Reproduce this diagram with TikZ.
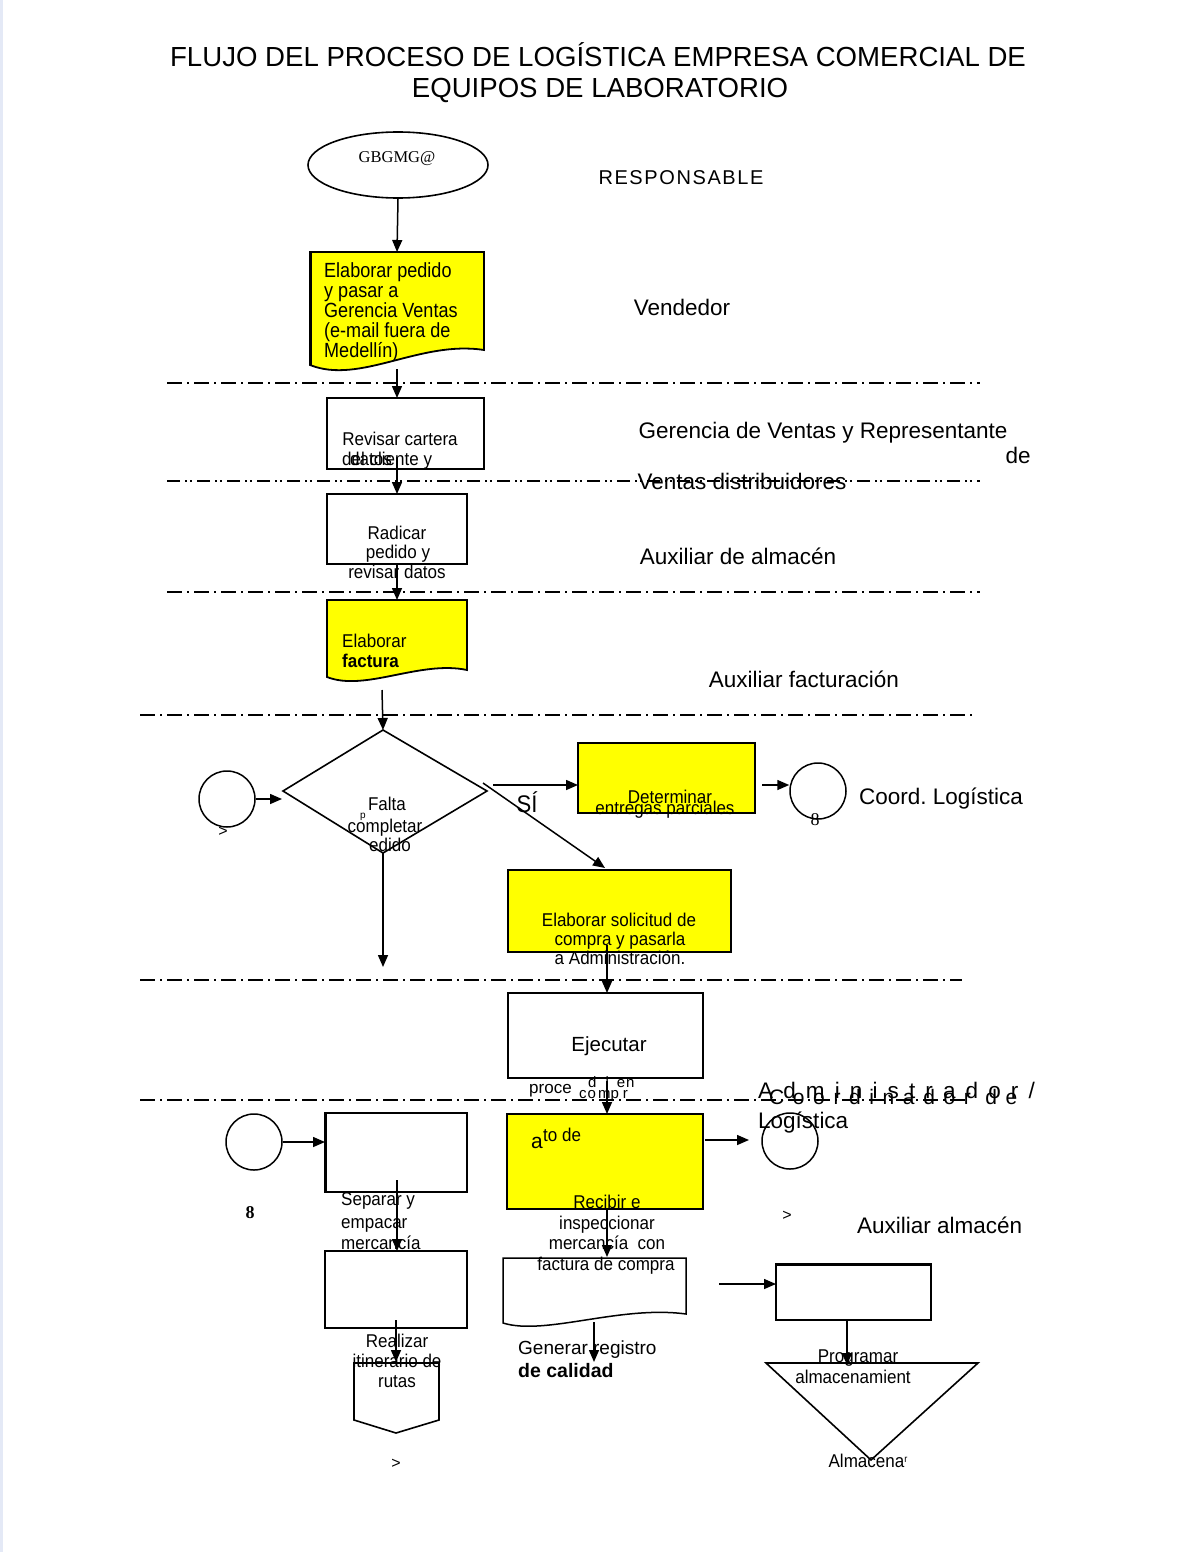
\documentclass[tikz,border=0pt]{standalone}
\usepackage{fontspec}
\setmainfont{Liberation Sans}
\newfontfamily\fsans{Liberation Sans}
\newfontfamily\fcond[FakeStretch=0.88]{Liberation Sans}
\newfontfamily\fnar[FakeStretch=0.92]{Liberation Sans}
\newfontfamily\fserif{Liberation Serif}
\newfontfamily\fadm[LetterSpace=45]{Liberation Sans}
\newfontfamily\fcoo[LetterSpace=41]{Liberation Sans}
\newfontfamily\fresp[LetterSpace=8]{Liberation Sans}
\usetikzlibrary{arrows.meta,shapes.geometric}
\definecolor{yel}{RGB}{255,255,0}
\definecolor{edge}{RGB}{228,233,246}
\newcommand\bxf{\fnar\fontsize{18.5}{20}\selectfont}
\newcommand\rlf{\fsans\fontsize{22.5}{26}\selectfont}
\newcommand\ttf{\fsans\fontsize{27.6}{31}\selectfont}
\newcommand\cdf{\fcond\fontsize{20.5}{20}\selectfont}
\tikzset{
  box/.style={draw, line width=1.8pt, inner sep=0pt, outer sep=0pt, anchor=north west},
  ybox/.style={box, fill=yel},
  shp/.style={draw, line width=1.8pt},
  conn/.style={line width=1.5pt, -{Triangle[length=12pt,width=10pt]}},
  lane/.style={line width=2.5pt, dash pattern=on 15pt off 5pt on 2pt off 5pt},
  thinlane/.style={line width=1.6pt, dash pattern=on 13pt off 5pt on 2pt off 3pt on 2pt off 5pt},
  circ/.style={draw, circle, line width=1.5pt, minimum size=56pt, inner sep=0pt},
  tc/.style={inner sep=0pt, anchor=base, font=\bxf},
  tl/.style={inner sep=0pt, anchor=base west, font=\bxf},
  cl/.style={inner sep=0pt, anchor=base west, font=\cdf},
  rl/.style={inner sep=0pt, anchor=base, font=\rlf},
  rll/.style={inner sep=0pt, anchor=base west, font=\rlf},
  gt/.style={inner sep=0pt, anchor=base, font=\fsans\fontsize{16}{18}\selectfont},
}
\begin{document}
\begin{tikzpicture}[x=1pt,y=-1pt]
\useasboundingbox (0,0) rectangle (1200,1552);
\fill[white] (0,0) rectangle (1200,1552);
\fill[edge] (0,0) rectangle (3,1552);

% title
\node[inner sep=0pt, anchor=base, font=\ttf] (title1) at (598,67) {FLUJO DEL PROCESO DE LOGÍSTICA EMPRESA COMERCIAL DE};
\node[inner sep=0pt, anchor=base, font=\ttf] (title2) at (600,98) {EQUIPOS DE LABORATORIO};

% swimlane separators
\draw[lane] (167,383) -- (980,383);
\draw[thinlane] (167,481) -- (980,481);
\draw[lane] (167,592) -- (980,592);
\draw[lane] (140,715) -- (975,715);
\draw[lane] (140,980) -- (962,980);
\draw[lane] (140,1100) -- (965,1100);

% responsables
\node[inner sep=0pt, anchor=base, font=\fresp\fontsize{20}{24}\selectfont] (resp) at (681,184) {RESPONSABLE};
\node[rl] (rvend) at (682,315) {Vendedor};
\node[rl] (rger1) at (823,438) {Gerencia de Ventas y Representante};
\node[rl] (rger2) at (1018,463) {de};
\node[rl] (rger3) at (742,489) {Ventas distribuidores};
\node[rl] (raux1) at (738,564) {Auxiliar de almacén};
\node[rl] (rfac) at (804,687) {Auxiliar facturación};
\node[rl] (rcoord) at (941,804) {Coord.\ Logística};
\node[rll] (radm) at (758,1098) {\fadm Administrador/};
\node[rll] (rcoo) at (769,1104) {\fcoo\fontsize{21}{24}\selectfont Coordinador de};
\node[rll] (rlog) at (758,1128) {Logística};
\node[rll] (raux2) at (857,1233) {Auxiliar almacén};

% start ellipse
\node[draw, ellipse, line width=1.6pt, minimum width=180pt, minimum height=66pt, inner sep=0pt] (start) at (398,165) {};
\node[inner sep=0pt, anchor=base, font=\fserif\fontsize{16.5}{18}\selectfont] (startlbl) at (397,162) {GBGMG@};

% document 1
\draw[shp, fill=yel] (310,252) -- (484,252) -- (484,350) .. controls (420,340) and (360,385) .. (310,365) -- cycle;
\draw[line width=3pt] (310,252) -- (310,365);
\coordinate (d1n) at (397,252);
\coordinate (d1s) at (397,369);
\node[cl] (t1a) at (324,277) {Elaborar pedido};
\node[cl] (t1b) at (324,297) {y pasar a};
\node[cl] (t1c) at (324,317) {Gerencia Ventas};
\node[cl] (t1d) at (324,337) {(e-mail fuera de};
\node[cl] (t1e) at (324,357) {Medellín)};

% box 2
\node[box, minimum width=157pt, minimum height=71pt] (b2) at (327,398) {};
\coordinate (b2s) at (397,457);
\node[tc] (t2a) at (400,445) {Revisar cartera};
\node[tl] (t2b) at (342,465) {del cliente y};
\node[tl] (t2c) at (350,465) {datos};

% box 3
\node[box, minimum width=140pt, minimum height=70pt] (b3) at (327,494) {};
\coordinate (b3s) at (397,564);
\node[tc] (t3a) at (397,539) {Radicar};
\node[tc] (t3b) at (398,558) {pedido y};
\node[tc] (t3c) at (397,578) {revisar datos};

% document 4
\draw[shp, fill=yel] (327,600) -- (467,600) -- (467,670) .. controls (420,660) and (365,692) .. (327,677) -- cycle;
\coordinate (d4n) at (397,600);
\coordinate (d4s) at (382,690);
\node[tl] (t4a) at (342,647) {Elaborar};
\node[tl, font=\bxf\bfseries] (t4b) at (342,667) {factura};

% decision
\coordinate (dtop) at (383,730);
\coordinate (dleft) at (283,791);
\coordinate (dright) at (487,791);
\coordinate (dbot) at (383,853);
\draw[shp, line width=1.6pt] (dtop) -- (dright) -- (dbot) -- (dleft) -- cycle;
\node[tc] (tda) at (387,810) {Falta};
\node[inner sep=0pt, anchor=base, font=\fsans\fontsize{10}{11}\selectfont] (tdp) at (363,818) {p};
\node[tc] (tdb) at (385,832) {completar};
\node[tc] (tdc) at (390,851) {edido};
\node[inner sep=0pt, anchor=base, font=\fnar\fontsize{24}{26}\selectfont] (si) at (527,812) {SÍ};

% connector circles
\node[circ] (lc1) at (227,799) {};
\node[gt] (lc1t) at (223,836) {>};
\node[circ] (rc1) at (818,791) {};
\node[inner sep=0pt, anchor=base, font=\fserif\fontsize{18}{20}\selectfont] (rc1t) at (815,825) {8};

% determinar
\node[ybox, minimum width=177pt, minimum height=70pt] (det) at (578,743) {};
\node[tc] (tdet1) at (670,803) {Determinar};
\node[tc] (tdet2) at (665,814) {entregas parciales};
\coordinate (detin) at (493,785);
\coordinate (detout) at (762,785);

% solicitud
\node[ybox, minimum width=223pt, minimum height=82pt] (sol) at (508,870) {};
\coordinate (soln) at (605,868);
\coordinate (sols) at (607,945);
\node[tc] (ts1) at (619,926) {Elaborar solicitud de};
\node[tc] (ts2) at (620,945) {compra y pasarla};
\node[tc] (ts3) at (620,964) {a Administración.};

% ejecutar
\node[box, minimum width=195pt, minimum height=85pt] (ej) at (508,993) {};
\coordinate (ejs) at (607,1081);
\node[inner sep=0pt, anchor=base, font=\fsans\fontsize{20.5}{22}\selectfont] (tej) at (609,1051) {Ejecutar};
\node[tl, font=\fsans\fontsize{17}{19}\selectfont] (tej2) at (529,1093) {proce};
\node[tl, font=\fsans\fontsize{15}{17}\selectfont] (tej3) at (588,1087) {d\hspace{9pt}l\hspace{8pt}e\hspace{1pt}n};
\node[tl, font=\fsans\fontsize{15}{17}\selectfont] (tej4) at (579,1098) {c\hspace{1pt}o\hspace{2pt}mp\hspace{4pt}r};

% recibir
\node[ybox, minimum width=196pt, minimum height=95pt] (rec) at (507,1114) {};
\coordinate (recout) at (705,1140);
\coordinate (recend) at (749,1140);
\coordinate (recs) at (607,1210);
\node[inner sep=0pt, anchor=base west, font=\fsans\fontsize{21}{22}\selectfont] (trc0) at (531,1148) {a};
\node[tl] (trc1) at (543,1141) {to de};
\node[tc] (trc2) at (607,1208) {Recibir e};
\node[tc] (trc3) at (607,1229) {inspeccionar};
\node[tc] (trc4) at (607,1249) {mercancía\ \ con};
\node[tc] (trc5) at (606,1270) {factura de compra};
\node[circ] (rc2) at (790,1141) {};
\node[gt] (rc2t) at (787,1220) {>};

% document 3
\draw[shp, line width=1.5pt] (503,1258) -- (686,1258) -- (686,1314) .. controls (620,1305) and (545,1336) .. (503,1323) -- cycle;
\coordinate (d3n) at (607,1258);
\coordinate (d3s) at (594,1322);
\coordinate (d3end) at (594,1362);
\node[tl, font=\fsans\fontsize{19}{21}\selectfont] (tg1) at (518,1354) {Generar registro};
\node[tl, font=\fsans\fontsize{19.5}{21}\selectfont\bfseries] (tg2) at (518,1377) {de calidad};

% left column
\node[circ] (lc2) at (254,1142) {};
\node[inner sep=0pt, anchor=base, font=\fserif\fontsize{18}{20}\selectfont\bfseries] (lc2t) at (250,1218) {8};
\node[box, minimum width=142pt, minimum height=79pt] (sep) at (325,1113) {};
\draw[line width=3pt] (sep.north west) -- (sep.south west);
\coordinate (seps) at (397,1180);
\node[tl] (tsp1) at (341,1205) {Separar y};
\node[tl] (tsp2) at (341,1228) {empacar};
\node[tl] (tsp3) at (341,1249) {mercancía};
\node[box, minimum width=142pt, minimum height=77pt] (real) at (325,1251) {};
\coordinate (reals) at (396,1320);
\node[tc] (tr1) at (397,1347) {Realizar};
\node[tc] (tr2) at (397,1367) {itinerario de};
\node[tc] (tr3) at (397,1387) {rutas};
\draw[shp, line width=1.6pt] (354,1363) -- (439,1363) -- (439,1420) -- (396,1433) -- (354,1420) -- cycle;
\coordinate (pentn) at (396,1362);
\node[gt] (pentt) at (396,1468) {>};

% right column
\node[box, minimum width=155pt, minimum height=56pt] (prog) at (776,1264) {};
\draw[line width=3pt] (prog.north west) -- (prog.north east);
\coordinate (progin) at (719,1284);
\coordinate (progs) at (847,1320);
\draw[shp, line width=1.6pt] (766,1363) -- (978,1363) -- (871,1460) -- cycle;
\coordinate (trin) at (847,1365);
\node[tc] (tp1) at (858,1362) {Programar};
\node[tc] (tp2) at (853,1383) {almacenamient};
\node[tc] (tp3) at (868,1467) {Almacena\raisebox{5pt}{\fontsize{10}{12}\selectfont r}};

% connectors
\draw[conn] (start.south) -- (d1n);
\draw[conn] (d1s) -- (d1s |- b2.north);
\draw[conn] (b2s) -- (b2s |- b3.north);
\draw[conn] (b3s) -- (d4n);
\draw[conn] (d4s) -- (dtop);
\draw[conn] (dbot) -- (383,967);
\draw[conn] (lc1.east) -- ([xshift=-1pt]lc1.east -| dleft);
\draw[conn] (detin) -- (detin -| det.west);
\draw[conn] (483,783) -- (soln);
\draw[conn] (detout) -- (detout -| rc1.west);
\draw[conn] (sols) -- (sols |- ej.north);
\draw[conn] (ejs) -- (ejs |- rec.north);
\draw[conn] (recout) -- (recend);
\draw[conn] (recs) -- (607,1257);
\draw[conn] (d3s) -- (d3end);
\draw[conn] (lc2.east) -- (lc2.east -| sep.west);
\draw[conn] (seps) -- (seps |- real.north);
\draw[conn] (reals) -- (pentn);
\draw[conn] (progin) -- (progin -| prog.west);
\draw[conn] (progs) -- (trin);
\end{tikzpicture}
\end{document}
